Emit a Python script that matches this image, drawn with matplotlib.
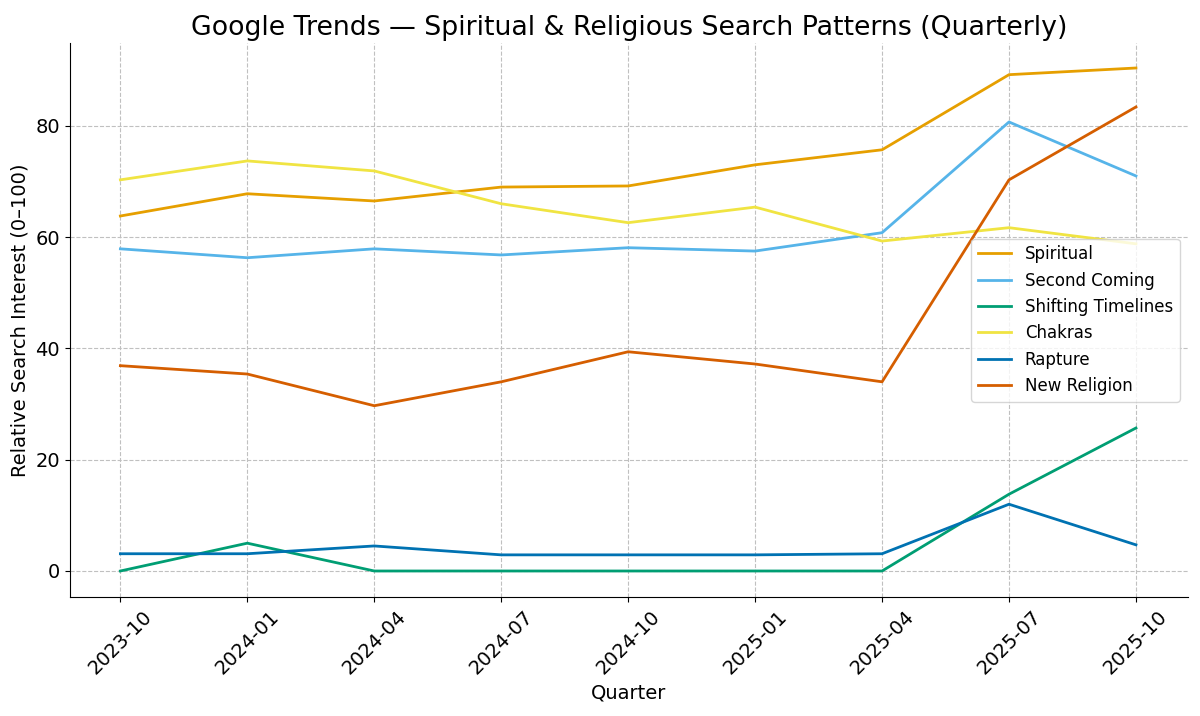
"""Google Trends quarterly search interest for spiritual / religious terms."""

import numpy as np
import matplotlib.pyplot as plt

quarters = ['2023-10', '2024-01', '2024-04', '2024-07', '2024-10',
            '2025-01', '2025-04', '2025-07', '2025-10']

spiritual = [63.8, 67.8, 66.5, 69.0, 69.2, 73.0, 75.7, 89.2, 90.4]
second_coming = [57.9, 56.3, 57.9, 56.8, 58.1, 57.5, 60.8, 80.7, 71.0]
shifting_timelines = [0.0, 5.0, 0.0, 0.0, 0.0, 0.0, 0.0, 13.8, 25.7]
chakras = [70.3, 73.7, 71.9, 66.0, 62.6, 65.4, 59.3, 61.7, 58.8]
rapture = [3.1, 3.1, 4.5, 2.9, 2.9, 2.9, 3.1, 12.0, 4.7]
new_religion = [36.9, 35.4, 29.7, 34.0, 39.4, 37.2, 34.0, 70.3, 83.4]

series = [
    ('Spiritual', spiritual, '#E69F00'),
    ('Second Coming', second_coming, '#56B4E9'),
    ('Shifting Timelines', shifting_timelines, '#009E73'),
    ('Chakras', chakras, '#F0E442'),
    ('Rapture', rapture, '#0072B2'),
    ('New Religion', new_religion, '#D55E00'),
]

fig, ax = plt.subplots(figsize=(12, 7.16), dpi=100)
x = np.arange(len(quarters))

for name, vals, color in series:
    ax.plot(x, vals, color=color, linewidth=2, label=name)

ax.set_xticks(x)
ax.set_xticklabels(quarters, rotation=45, fontsize=14)
ax.tick_params(axis='y', labelsize=14)
ax.set_xlim(-0.4, len(quarters) - 1 + 0.41)
ax.set_ylim(-4.7, 94.9)
ax.set_yticks([0, 20, 40, 60, 80])

ax.set_title('Google Trends \u2014 Spiritual & Religious Search Patterns (Quarterly)',
             fontsize=19.3)
ax.set_xlabel('Quarter', fontsize=14)
ax.set_ylabel('Relative Search Interest (0\u2013100)', fontsize=14)

ax.grid(True, linestyle='--', color='#c0c0c0', linewidth=0.8)
ax.spines['top'].set_visible(False)
ax.spines['right'].set_visible(False)

ax.legend(loc='center right', bbox_to_anchor=(1.0, 0.5), fontsize=12)

fig.subplots_adjust(left=0.058, right=0.99, top=0.94, bottom=0.166)
fig.savefig('out.png')
plt.close(fig)
